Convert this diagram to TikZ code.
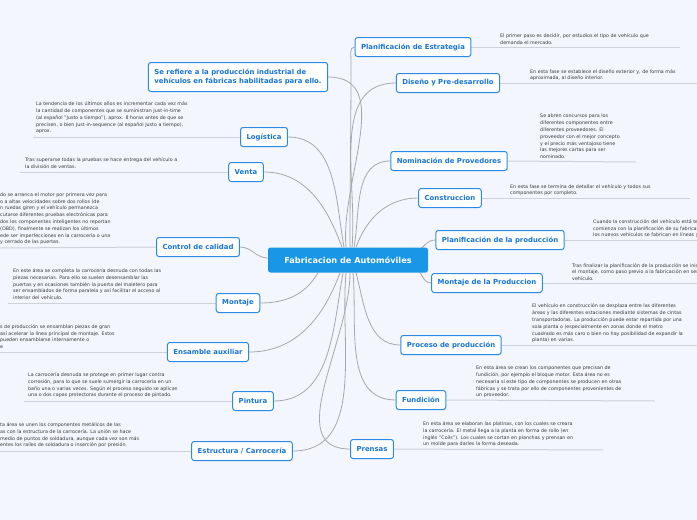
\documentclass[tikz,border=0pt]{standalone}
\usepackage{fontspec}
\setmainfont{DejaVu Sans}
\usetikzlibrary{backgrounds}
\definecolor{bg}{HTML}{F3F6FE}
\definecolor{nb}{HTML}{2B8AE8}
\definecolor{nt}{HTML}{1774D8}
\definecolor{cf}{HTML}{1A96E6}
\definecolor{dt}{HTML}{3A3A3A}
\definecolor{cl}{HTML}{A8A8A8}
\definecolor{ul}{HTML}{CDD1DA}
\tikzset{
 topic/.style={draw=nb,line width=1pt,rounded corners=2.5pt,fill=white,text=nt,font=\fontsize{6.9}{8}\selectfont\bfseries,minimum height=19pt,inner xsep=6pt},
 central/.style={fill=cf,rounded corners=2.5pt,text=white,font=\fontsize{8.2}{9}\selectfont\bfseries,minimum height=25pt,minimum width=160pt},
 desc/.style={text=dt,font=\fontsize{4.8}{6.8}\selectfont,align=left,inner sep=0pt},
 conn/.style={draw=cl,line width=0.8pt},
 uline/.style={draw=ul,line width=1pt}
}
\begin{document}
\begin{tikzpicture}[x=1pt,y=-1pt]
\useasboundingbox (0,0) rectangle (697,520);
\node[central] (c) at (348,260) {Fabricacion de Automóviles};
% right
\node[topic] (n1) at (413,47) {Planificación de Estrategia};
\node[topic] (n2) at (448,83) {Diseño y Pre-desarrollo};
\node[topic] (n3) at (449,161) {Nominación de Provedores};
\node[topic] (n4) at (450,198) {Construccion};
\node[topic] (n5) at (500,240) {Planificación de la producción};
\node[topic] (n6) at (487,283) {Montaje de la Produccion};
\node[topic] (n7) at (451,345) {Proceso de producción};
\node[topic] (n8) at (421,400) {Fundición};
\node[topic] (n9) at (372,449) {Prensas};
% left
\node[topic,align=left,minimum height=29pt,font=\fontsize{6.9}{8.5}\selectfont\bfseries] (l0) at (238,77) {Se refiere a la producción industrial de\\vehículos en fábricas habilitadas para ello.};
\node[topic] (l1) at (264,137) {Logística};
\node[topic] (l2) at (246,172) {Venta};
\node[topic] (l3) at (198,247) {Control de calidad};
\node[topic] (l4) at (238,303) {Montaje};
\node[topic] (l5) at (208,352) {Ensamble auxiliar};
\node[topic] (l6) at (253,401) {Pintura};
\node[topic] (l7) at (242,451) {Estructura / Carrocería};
% coordinates for underline ends
\coordinate (e1) at (680,47); \coordinate (e2) at (697,83); \coordinate (e3) at (636,162);
\coordinate (e4) at (690,198); \coordinate (e5) at (697,240); \coordinate (e6) at (697,283);
\coordinate (e7) at (697,345); \coordinate (e8) at (655,401); \coordinate (e9) at (603,450);
\coordinate (f1) at (33,137); \coordinate (f2) at (20,172); \coordinate (f3) at (0,248);
\coordinate (f4) at (8,303); \coordinate (f5) at (0,352); \coordinate (f6) at (24,401); \coordinate (f7) at (0,451);
\begin{scope}[on background layer]
\fill[bg] (0,0) rectangle (697,520);
\draw[conn] (c.north) ++(2,0) to[out=90,in=270] (351,60) to[out=90,in=180] (n1.west);
\draw[conn] (c.north) ++(4,0) to[out=85,in=180] (n2.west);
\draw[conn] (c.north) ++(6,0) to[out=80,in=180] (n3.west);
\draw[conn] (c.north) ++(8,0) to[out=70,in=180] (n4.west);
\draw[conn] (c.east) ++(-15,-6) to[out=20,in=180] (n5.west);
\draw[conn] (c.east) ++(-15,6) to[out=-20,in=180] (n6.west);
\draw[conn] (c.south) ++(8,0) to[out=-75,in=180] (n7.west);
\draw[conn] (c.south) ++(5,0) to[out=-85,in=180] (n8.west);
\draw[conn] (c.south) ++(2,0) to[out=-90,in=180] (n9.west);
\draw[conn] (c.north) ++(-2,0) to[out=95,in=0] (l0.east);
\draw[conn] (c.north) ++(-4,0) to[out=100,in=0] (l1.east);
\draw[conn] (c.north) ++(-6,0) to[out=110,in=0] (l2.east);
\draw[conn] (c.west) ++(0,-2) to[out=180,in=0] (l3.east);
\draw[conn] (c.south) ++(-30,0) to[out=-120,in=0] (l4.east);
\draw[conn] (c.south) ++(-8,0) to[out=-110,in=0] (l5.east);
\draw[conn] (c.south) ++(-5,0) to[out=-100,in=0] (l6.east);
\draw[conn] (c.south) ++(-2,0) to[out=-95,in=0] (l7.east);
\draw[uline] (n1.east) -- (e1); \draw[uline] (n2.east) -- (e2); \draw[uline] (n3.east) -- (e3);
\draw[uline] (n4.east) -- (e4); \draw[uline] (n5.east) -- (e5); \draw[uline] (n6.east) -- (e6);
\draw[uline] (n7.east) -- (e7); \draw[uline] (n8.east) -- (e8); \draw[uline] (n9.east) -- (e9);
\draw[uline] (l1.west) -- (f1); \draw[uline] (l2.west) -- (f2); \draw[uline] (l3.west) -- (f3);
\draw[uline] (l4.west) -- (f4); \draw[uline] (l5.west) -- (f5); \draw[uline] (l6.west) -- (f6); \draw[uline] (l7.west) -- (f7);
\end{scope}
% right descriptions
\node[desc,anchor=south west] (d1) at (500,45) {El primer paso es decidir, por estudios el tipo de vehículo que\\demanda el mercado.};
\node[desc,anchor=south west] (d2) at (530,81) {En esta fase se establece el diseño exterior y, de forma más\\aproximada, al diseño interior.};
\node[desc,anchor=south west] (d3) at (540,159) {Se abren concursos para los\\diferentes componentes entre\\diferentes proveedores. El\\proveedor con el mejor concepto\\y el precio más ventajoso tiene\\las mejores cartas para ser\\nominado.};
\node[desc,anchor=south west] (d4) at (510,196) {En esta fase se termina de detallar el vehículo y todos sus\\componentes por completo.};
\node[desc,anchor=south west] (d5) at (593,238) {Cuando la construcción del vehículo está terminada,\\comienza con la planificación de su fabricación. Normalmente\\los nuevos vehículos se fabrican en líneas ya existentes.};
\node[desc,anchor=south west] (d6) at (572,281) {Tras finalizar la planificación de la producción se inicia\\el montaje, como paso previo a la fabricación en serie del\\vehículo.};
\node[desc,anchor=south west] (d7) at (532,343) {El vehículo en construcción se desplaza entre las diferentes\\áreas y las diferentes estaciones mediante sistemas de cintas\\transportadoras. La producción puede estar repartida por una\\sola planta o (especialmente en zonas donde el metro\\cuadrado es más caro o bien no hay posibilidad de expandir la\\planta) en varias.};
\node[desc,anchor=south west] (d8) at (476,398) {En esta área se crean los componentes que precisan de\\fundición, por ejemplo el bloque motor. Esta área no es\\necesaria si este tipo de componentes se producen en otras\\fábricas y se trata por ello de componentes provenientes de\\un proveedor.};
\node[desc,anchor=south west] (d9) at (423,447) {En esta área se elaboran las platinas, con los cuales se creara\\la carrocería. El metal llega a la planta en forma de rollo (en\\inglés "Coils"). Los cuales se cortan en planchas y prensan en\\un molde para darles la forma deseada.};
% left descriptions
\node[desc,anchor=south west] (g1) at (36,134) {La tendencia de los últimos años es incrementar cada vez más\\la cantidad de componentes que se suministran Just-in-time\\(al español "Justo a tiempo"), aprox. 8 horas antes de que se\\precisen, o bien Just-in-sequence (al español Justo a tiempo),\\aprox.};
\node[desc,anchor=south west] (g2) at (25,169) {Tras superarse todas la pruebas se hace entrega del vehículo a\\la división de ventas.};
\node[desc,anchor=south west] (g3) at (0,245) {do se arranca el motor por primera vez para\\o a altas velocidades sobre dos rollos (de\\n ruedas giren y el vehículo permanezca\\cutarse diferentes pruebas electrónicas para\\dos los componentes inteligentes no reportan\\ (OBD), finalmente se realizan los últimos\\ede ser imperfecciones en la carrocería o una\\y cerrado de las puertas.};
\node[desc,anchor=south west] (g4) at (13,300) {En este área se completa la carrocería desnuda con todas las\\piezas necesarias. Para ello se suelen desensamblar las\\puertas y en ocasiones también la puerta del maletero para\\ser ensamblados de forma paralela y así facilitar el acceso al\\interior del vehículo.};
\node[desc,anchor=south west] (g5) at (0,349) {s de producción se ensamblan piezas de gran\\así acelerar la línea principal de montaje. Estos\\ pueden ensamblarse internamente o\\e};
\node[desc,anchor=south west] (g6) at (28,398) {La carrocería desnuda se protege en primer lugar contra\\corrosión, para lo que se suele sumergir la carrocería en un\\baño una o varias veces. Según el proceso seguido se aplican\\una o dos capas protectoras durante el proceso de pintado.};
\node[desc,anchor=south west] (g7) at (0,448) {ta área se unen los componentes metálicos de las\\as con la estructura de la carrocería. La unión se hace\\medio de puntos de soldadura, aunque cada vez son más\\entes los raíles de soldadura o inserción por presión.};
\end{tikzpicture}
\end{document}
